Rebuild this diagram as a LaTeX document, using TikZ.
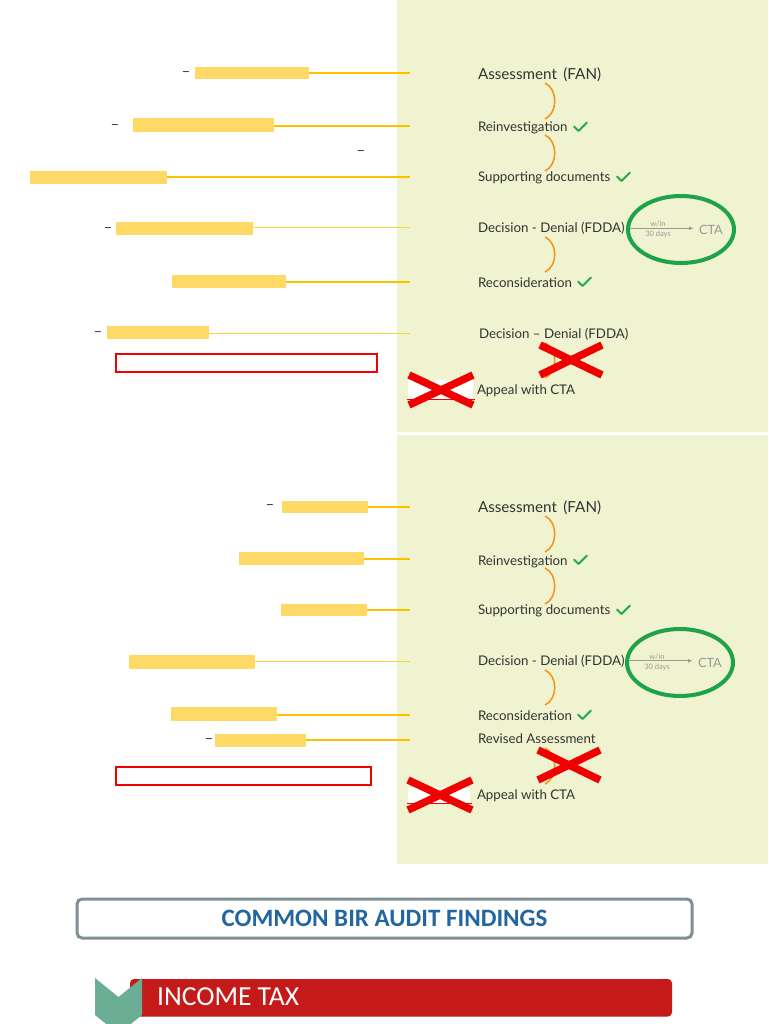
\documentclass[tikz,border=0pt]{standalone}
\usepackage{fontspec}
\setmainfont{Lato}
\newfontfamily\calib{Carlito}
\usetikzlibrary{shapes.geometric,arrows.meta}
\definecolor{panel}{HTML}{EFF3CF}
\definecolor{barY}{HTML}{FFD966}
\definecolor{lineY}{HTML}{FFC000}
\definecolor{txt}{HTML}{333333}
\definecolor{braceO}{HTML}{F5961E}
\definecolor{xred}{HTML}{F00000}
\definecolor{ckG}{HTML}{22A84A}
\definecolor{ellG}{HTML}{1FA34A}
\definecolor{gtxt}{HTML}{9A9A9A}
\definecolor{ttlblue}{HTML}{23659F}
\definecolor{ttlgray}{HTML}{7F8F93}
\definecolor{banred}{HTML}{C41A1A}
\definecolor{chevG}{HTML}{6BAE96}
\tikzset{
  bar/.style={fill=barY, draw=none, inner sep=0pt, outer sep=0pt},
  lead/.style={draw=lineY, line width=2},
  thinlead/.style={draw=lineY!75, line width=1},
  lbl/.style={anchor=base west, inner sep=0pt, outer sep=0pt, text=txt, font=\fontsize{13.3}{15}\selectfont},
  biglbl/.style={lbl, font=\fontsize{15.2}{17}\selectfont},
  dashmark/.style={inner sep=0pt, text=txt, font=\fontsize{15}{15}\selectfont},
  brace/.style={draw=braceO, line width=1.6},
  xmark/.style={draw=xred, line width=7.5},
  tick/.style={draw=ckG, line width=2, line cap=round, line join=round},
  oval/.style={ellipse, draw=ellG, line width=4, minimum width=106, minimum height=67, inner sep=0pt},
  arr/.style={draw=gtxt, line width=0.8, -{Triangle[length=4pt,width=3.5pt]}},
  smallg/.style={inner sep=0pt, text=gtxt, font=\fontsize{7.5}{8}\selectfont},
  ctal/.style={anchor=base west, inner sep=0pt, outer sep=0pt, text=gtxt, font=\fontsize{12.8}{14}\selectfont},
  redbox/.style={draw=xred, line width=1.6, fill=white, inner sep=0pt},
}
\begin{document}
\begin{tikzpicture}[x=1pt,y=-1pt]
\useasboundingbox (0,0) rectangle (768,1024);
\fill[white] (0,0) rectangle (768,1024);
% panels
\fill[panel] (397,0) rectangle (768,432);
\fill[panel] (397,434.5) rectangle (768,864);

% ================= TOP SECTION =================
\node[bar, minimum width=114, minimum height=12] (t1) at (252,73) {};
\node[bar, minimum width=141, minimum height=14] (t2) at (203.5,125) {};
\node[bar, minimum width=137, minimum height=13] (t3) at (98.5,177.5) {};
\node[bar, minimum width=137, minimum height=13] (t4) at (184.5,228.5) {};
\node[bar, minimum width=114, minimum height=13] (t5) at (229,281.5) {};
\node[bar, minimum width=102, minimum height=13] (t6) at (158,332.5) {};
\node[dashmark] (td1) at (186,74) {–};
\node[dashmark] (td2) at (115,127) {–};
\node[dashmark] (td3) at (361,153) {–};
\node[dashmark] (td4) at (108,230.5) {–};
\node[dashmark] (td6) at (98,334) {–};
\coordinate (te1) at (410,73);
\coordinate (te2) at (410,126);
\coordinate (te3) at (410,177);
\coordinate (te4) at (410,228);
\coordinate (te5) at (410,282);
\coordinate (te6) at (410,333);
\draw[lead] (t1.east) -- (te1);
\draw[lead] (t2.east |- te2) -- (te2);
\draw[lead] (t3.east |- te3) -- (te3);
\draw[thinlead] (t4.east |- te4) -- (te4);
\draw[lead] (t5.east |- te5) -- (te5);
\draw[thinlead] (t6.east |- te6) -- (te6);
\node[redbox, minimum width=261, minimum height=18] (tr) at (246.5,363) {};

\node[biglbl] (a1) at (478,79.5) {Assessment\, (FAN)};
\node[lbl] (r1) at (478,131.5) {Reinvestigation};
\node[lbl] (s1) at (478,181.5) {Supporting documents};
\node[lbl] (d1) at (478,232.5) {Decision - Denial (FDDA)};
\node[lbl] (c1) at (478,287) {Reconsideration};
\node[lbl] (e1) at (479,338) {Decision – Denial (FDDA)};
\node[lbl] (p1) at (477,394) {Appeal with CTA};
\node[ctal] (cta1) at (699,234) {CTA};
\draw[arr, shorten <=3pt, shorten >=6pt] (d1.east) -- (d1.east -| cta1.west);
\node[smallg] (w1) at (658,224) {w/in};
\node[smallg] (w1b) at (658,234) {30 days};
\node[oval] (o1) at (681,229.5) {};
\draw[tick] (574,126.5) -- (578.5,131) -- (587,122.5);
\draw[tick] (617,176.5) -- (621.5,181) -- (630,172.5);
\draw[tick] (578,281.5) -- (582.5,286) -- (591,277.5);
\draw[brace] (545,83) .. controls (558,89) and (558,113) .. (545,119);
\draw[brace] (545,135) .. controls (558,141) and (558,165) .. (545,171);
\draw[brace] (545,237) .. controls (558,243) and (558,266) .. (545,272);
\draw[brace] (545,343) .. controls (558,349) and (558,372) .. (545,378);
\fill[white] (408,380) rectangle (473,398.5);
\draw[xred, line width=1] (407,399.5) -- (475,399.5);
\draw[xmark] (540,345) -- (602,375);
\draw[xmark] (540,375) -- (602,345);
\draw[xmark] (409,375) -- (473,405);
\draw[xmark] (409,405) -- (473,375);

% ================= BOTTOM SECTION =================
\node[bar, minimum width=86, minimum height=12] (u1) at (325,507) {};
\node[bar, minimum width=125, minimum height=13] (u2) at (301.5,558.5) {};
\node[bar, minimum width=86, minimum height=12] (u3) at (324,610) {};
\node[bar, minimum width=126, minimum height=14] (u4) at (192,662) {};
\node[bar, minimum width=106, minimum height=14] (u5) at (224,714) {};
\node[bar, minimum width=91, minimum height=13] (u6) at (260.5,740.5) {};
\node[dashmark] (ud1) at (270,507.5) {–};
\node[dashmark] (ud6) at (209,741.5) {–};
\coordinate (ue1) at (410,507);
\coordinate (ue2) at (410,559);
\coordinate (ue3) at (410,609.5);
\coordinate (ue4) at (410,661);
\coordinate (ue5) at (410,715);
\coordinate (ue6) at (410,740);
\draw[lead] (u1.east |- ue1) -- (ue1);
\draw[lead] (u2.east |- ue2) -- (ue2);
\draw[lead] (u3.east |- ue3) -- (ue3);
\draw[thinlead] (u4.east |- ue4) -- (ue4);
\draw[lead] (u5.east |- ue5) -- (ue5);
\draw[lead] (u6.east |- ue6) -- (ue6);
\node[redbox, minimum width=255, minimum height=18] (ur) at (243.5,776) {};

\node[biglbl] (a2) at (478,512.5) {Assessment\, (FAN)};
\node[lbl] (r2) at (478,565) {Reinvestigation};
\node[lbl] (s2) at (478,614.5) {Supporting documents};
\node[lbl] (d2) at (478,665) {Decision - Denial (FDDA)};
\node[lbl] (c2) at (478,720) {Reconsideration};
\node[lbl] (v2) at (478,743.5) {Revised Assessment};
\node[lbl] (p2) at (477,799) {Appeal with CTA};
\node[ctal] (cta2) at (698,667) {CTA};
\draw[arr, shorten <=3pt, shorten >=6pt] (d2.east) -- (d2.east -| cta2.west);
\node[smallg] (w2) at (657,657) {w/in};
\node[smallg] (w2b) at (657,667) {30 days};
\node[oval] (o2) at (680,662.5) {};
\draw[tick] (574,559.5) -- (578.5,564) -- (587,555.5);
\draw[tick] (617,609.5) -- (621.5,614) -- (630,605.5);
\draw[tick] (578,714.5) -- (582.5,719) -- (591,710.5);
\draw[brace] (545,516) .. controls (558,522) and (558,546) .. (545,552);
\draw[brace] (545,568) .. controls (558,574) and (558,598) .. (545,604);
\draw[brace] (545,670) .. controls (558,676) and (558,699) .. (545,705);
\draw[brace] (545,748) .. controls (558,754) and (558,778) .. (545,784);
\fill[white] (408,787) rectangle (470,803);
\draw[xred, line width=1] (407,803.5) -- (472,803.5);
\draw[xmark] (538,750) -- (600,780);
\draw[xmark] (538,780) -- (600,750);
\draw[xmark] (408,780) -- (472,810);
\draw[xmark] (408,810) -- (472,780);

% ================= TITLE & BANNER =================
\node[draw=ttlgray, line width=3, rounded corners=5, fill=white, minimum width=615, minimum height=39, inner sep=0pt,
  text=ttlblue, font=\calib\bfseries\fontsize{25}{27}\selectfont] (title) at (384.5,918.5) {COMMON BIR AUDIT FINDINGS};
\fill[banred, rounded corners=4] (130,979) rectangle (672,1016.5);
\fill[chevG] (95,978) -- (118.5,997) -- (142,978) -- (142,1015) -- (118.5,1034) -- (95,1015) -- cycle;
\node[anchor=base west, inner sep=0pt, text=white, font=\calib\fontsize{27.5}{29}\selectfont] (inc) at (157,1005.5) {INCOME TAX};
\end{tikzpicture}
\end{document}
